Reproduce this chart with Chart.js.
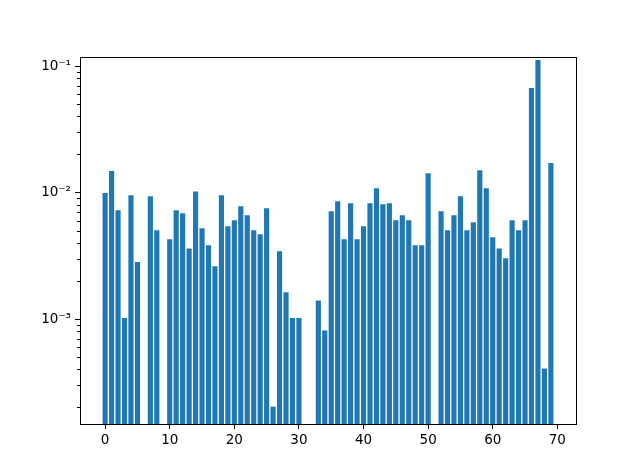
<!DOCTYPE html>
<html>
<head>
<meta charset="utf-8">
<script src="https://cdn.jsdelivr.net/npm/chart.js@4/dist/chart.umd.min.js"></script>
<style>
    html, body { margin: 0; padding: 0; background: #fff; }
    #wrap { width: 640px; height: 476px; }
</style>
</head>
<body>
<div id="wrap"><canvas id="barChart" width="640" height="476"></canvas></div>
<script>
// bar positions 0..69, missing bars (zero on log axis) are null
const positions = Array.from({ length: 70 }, (_, i) => i);
const values = [
    0.0099, 0.0148, 0.00724, 0.00102, 0.00953, 0.00282, null, 0.00935, 0.00503, null,
    0.00427, 0.00724, 0.00686, 0.00362, 0.0102, 0.00522, 0.00383, 0.00261, 0.00953, 0.00541,
    0.00604, 0.0078, 0.00661, 0.00503, 0.00468, 0.00752, 0.000203, 0.00343, 0.00163, 0.00102,
    0.00102, null, null, 0.0014, 0.000813, 0.00711, 0.00853, 0.00427, 0.00822, 0.00427,
    0.00541, 0.00822, 0.0108, 0.00807, 0.00822, 0.00604, 0.00661, 0.00604, 0.00383, 0.00383,
    0.0142, null, 0.00711, 0.00503, 0.00661, 0.00935, 0.00503, 0.00582, 0.0150, 0.0108,
    0.00443, 0.00362, 0.00302, 0.00604, 0.00503, 0.00604, 0.067, 0.1116, 0.000406, 0.0171
];
const xTicks = [0, 10, 20, 30, 40, 50, 60, 70];
const yTicks = [1e-3, 1e-2, 1e-1];
const yTickLabels = ['10\u207B\u00B3', '10\u207B\u00B2', '10\u207B\u00B9'];

const fontFamily = '"DejaVu Sans", sans-serif';

// frame round the plot plus the minor log ticks
const framePlugin = {
    id: 'frame',
    afterDraw(chart) {
        const { ctx, chartArea: a } = chart;
        const y = chart.scales.y;
        ctx.save();
        ctx.strokeStyle = '#000';
        ctx.lineWidth = 1;
        for (let e = -4; e <= -1; e++) {
            for (let m = 2; m <= 9; m++) {
                const v = m * Math.pow(10, e);
                if (v < y.min || v > y.max) continue;
                const py = Math.round(y.getPixelForValue(v)) + 0.5;
                ctx.beginPath();
                ctx.moveTo(a.left, py);
                ctx.lineTo(a.left - 3, py);
                ctx.stroke();
            }
        }
        ctx.strokeRect(Math.round(a.left) + 0.5, Math.round(a.top) + 0.5,
            Math.round(a.right - a.left), Math.round(a.bottom - a.top));
        ctx.restore();
    }
};

new Chart(document.getElementById('barChart'), {
    type: 'bar',
    data: {
        datasets: [{
            data: positions.map((p, i) => ({ x: p, y: values[i] })),
            backgroundColor: '#1f77b4',
            borderWidth: 0,
            barPercentage: 0.8,
            categoryPercentage: 1.0
        }]
    },
    plugins: [framePlugin],
    options: {
        responsive: false,
        animation: false,
        devicePixelRatio: 1,
        layout: { padding: { left: 0, top: 57, right: 64, bottom: 0 } },
        plugins: {
            legend: { display: false },
            tooltip: { enabled: false }
        },
        scales: {
            x: {
                type: 'linear',
                min: -3.89,
                max: 72.89,
                offset: false,
                afterBuildTicks: scale => { scale.ticks = xTicks.map(v => ({ value: v })); },
                afterFit: scale => { scale.height = 52; },
                border: { display: false },
                grid: { offset: false, drawOnChartArea: false, tickLength: 5, tickColor: '#000', tickWidth: 1 },
                ticks: {
                    color: '#000',
                    padding: 3,
                    maxRotation: 0,
                    font: { family: fontFamily, size: 13.5 },
                    callback: v => String(v)
                }
            },
            y: {
                type: 'logarithmic',
                min: 1.48e-4,
                max: 0.118,
                afterBuildTicks: scale => { scale.ticks = yTicks.map(v => ({ value: v })); },
                afterFit: scale => { scale.width = 80; },
                border: { display: false },
                grid: { drawOnChartArea: false, tickLength: 5, tickColor: '#000', tickWidth: 1 },
                ticks: {
                    color: '#000',
                    padding: 4,
                    font: { family: fontFamily, size: 13.5 },
                    callback: v => {
                        const i = yTicks.findIndex(t => Math.abs(t - v) / t < 1e-6);
                        return i >= 0 ? yTickLabels[i] : '';
                    }
                }
            }
        }
    }
});
</script>
</body>
</html>
